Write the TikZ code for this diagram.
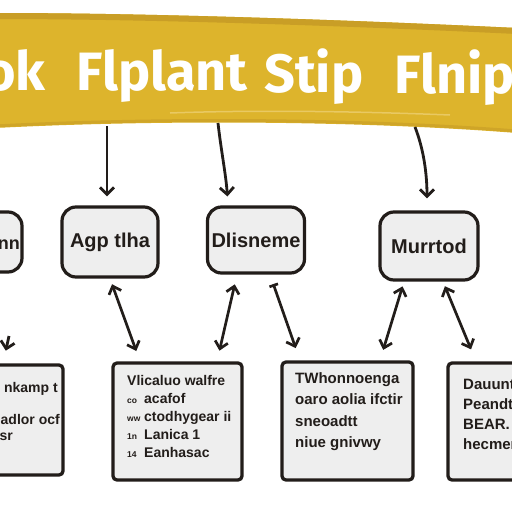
\documentclass[tikz,border=0pt]{standalone}
\usepackage{fontspec}
\newfontfamily\titlefont{Fira Sans}
\newfontfamily\boxfont{Liberation Sans}
\usetikzlibrary{arrows.meta,calc}
\definecolor{gold}{HTML}{DDB42C}
\definecolor{golddark}{HTML}{C99E26}
\definecolor{goldlight}{HTML}{E9C962}
\definecolor{ink}{HTML}{221D1A}
\definecolor{boxfill}{HTML}{EEEEEE}
\newcommand{\smallcol}[1]{\makebox[17pt][l]{\fontsize{8.5}{12}\selectfont #1}}
\begin{document}
\begin{tikzpicture}[x=1pt,y=-1pt,
  bubble/.style={draw=ink, line width=3.2pt, fill=boxfill, rounded corners=14pt, inner sep=0pt,
    font=\boxfont\bfseries\fontsize{20}{24}\selectfont, text=ink},
  card/.style={draw=ink, line width=3.3pt, fill=boxfill, rounded corners=4pt, inner sep=0pt},
  cardtext/.style={text=ink, align=left, inner sep=0pt, anchor=north west},
  link/.style={draw=ink, line width=2.8pt, -{Straight Barb[length=7pt,width=14pt]}},
  both/.style={draw=ink, line width=2.7pt, {Straight Barb[length=7pt,width=13pt]}-{Straight Barb[length=7pt,width=13pt]}},
  title/.style={font=\titlefont\bfseries\fontsize{54}{60}\selectfont, text=white, inner sep=0pt, anchor=base west}
]
\fill[white] (0,0) rectangle (512,512);
\clip (0,0) rectangle (512,512);

% banner
\fill[gold] (-5,13) .. controls (150,13) and (350,20) .. (517,28) -- (517,133)
  .. controls (350,120) and (150,120) .. (-5,128) -- cycle;
\draw[golddark, line width=6pt] (-5,16) .. controls (150,16) and (350,23) .. (517,31);
\draw[golddark!70!gold, line width=3pt] (-5,126) .. controls (150,118) and (350,118) .. (517,131);
\draw[goldlight, line width=1.5pt] (170,113) .. controls (250,110) and (350,111) .. (450,115);

\node[title, anchor=base east] (t0) at (46,90) {ok};
\node[title] (t1) at (76,90) {Flplant};
\node[title] (t2) at (264,92) {Stip};
\node[title] (t3) at (394,93) {Flnip};

% first row
\node[bubble, minimum width=62pt, minimum height=60pt] (n0) at (-9,242) {};
\node[font=\boxfont\bfseries\fontsize{18}{22}\selectfont, text=ink, inner sep=0pt, anchor=east] (n0t) at (20,245) {ann};
\node[bubble, minimum width=96pt, minimum height=70pt] (n1) at (110,242) {Agp tlha};
\node[bubble, minimum width=97pt, minimum height=66pt] (n2) at (256,240) {Dlisneme};
\node[bubble, minimum width=98pt, minimum height=68pt] (n3) at (429,246) {Murrtod};

% second row
\node[card, minimum width=103pt, minimum height=110pt] (bA) at (11.5,420) {};
\node[card, minimum width=129pt, minimum height=117pt] (bB) at (177.5,421.5) {};
\node[card, minimum width=131pt, minimum height=118pt] (bC) at (347.5,421) {};
\node[card, minimum width=112pt, minimum height=117pt] (bD) at (504,421.5) {};

\node[cardtext, anchor=base east, font=\boxfont\bfseries\fontsize{14}{18}\selectfont] (ta1) at (58,392) {nkamp t};
\node[cardtext, anchor=base east, font=\boxfont\bfseries\fontsize{14}{18}\selectfont] (ta2) at (60,424) {adlor ocf};
\node[cardtext, anchor=base east, font=\boxfont\bfseries\fontsize{14}{18}\selectfont] (ta3) at (13,440) {sr};

\node[cardtext, font=\boxfont\bfseries\fontsize{14}{18}\selectfont] (tB) at (127,375)
  {Vlicaluo walfre\\ \smallcol{co}acafof\\ \smallcol{ww}ctodhygear ii\\
   \smallcol{1n}Lanica 1\\ \smallcol{14}Eanhasac};
\node[cardtext, font=\boxfont\bfseries\fontsize{15}{21.5}\selectfont] (tC) at (295,372)
  {TWhonnoenga\\ oaro aolia ifctir\\ sneoadtt\\ niue gnivwy};
\node[cardtext, font=\boxfont\bfseries\fontsize{15}{20}\selectfont] (tD) at (463,379)
  {Dauunt'\\ Peandtiir\\ BEAR. a\\ hecmena};

% connectors from banner
\coordinate (c1) at (107,126);
\coordinate (c2) at (218,123);
\coordinate (c3) at (415,127);
\coordinate (c0) at (9,336);
\draw[link, shorten >=9pt] (c1) -- ([xshift=-3pt]n1.north);
\draw[link, shorten >=9pt] (c2) .. controls (221,150) and (226,175) .. ([xshift=-28pt]n2.north);
\draw[link, shorten >=12pt] (c3) .. controls (424,150) and (427,175) .. ([xshift=-2pt]n3.north);

% connectors between rows
\draw[link, shorten >=13pt] (c0) -- ([xshift=-8.5pt]bA.north);
\draw[both, shorten <=6pt, shorten >=11pt] (n1.south) -- ([xshift=-37.5pt]bB.north);
\draw[both, shorten <=10pt, shorten >=11pt] ([xshift=-19pt]n2.south) -- ([xshift=39.5pt]bB.north);
\draw[draw=ink, line width=2.7pt, {Bar[width=9pt]}-{Straight Barb[length=7pt,width=14pt]}, shorten <=10pt, shorten >=13pt]
  ([xshift=14pt]n2.south) -- ([xshift=-47.5pt]bC.north);
\draw[both, shorten <=5pt, shorten >=11pt] ([xshift=-25pt]n3.south) -- ([xshift=32.5pt]bC.north);
\draw[both, shorten <=5pt, shorten >=13pt] ([xshift=14pt]n3.south) -- ([xshift=-28pt]bD.north);
\end{tikzpicture}
\end{document}
